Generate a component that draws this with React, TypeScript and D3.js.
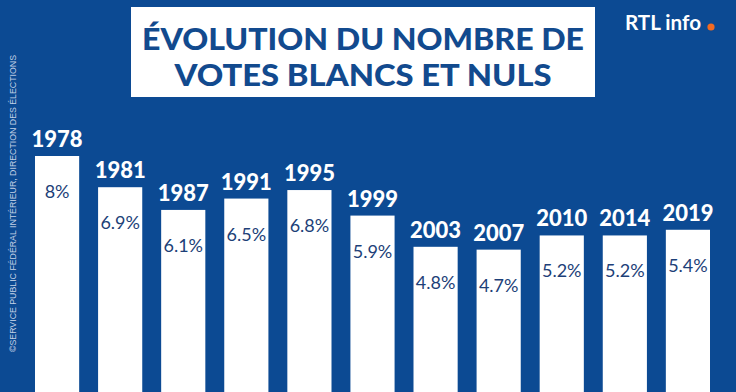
import { useEffect, useRef } from "react";
import * as d3 from "d3";

const years = ["1978", "1981", "1987", "1991", "1995", "1999", "2003", "2007", "2010", "2014", "2019"];
const shares = [8, 6.9, 6.1, 6.5, 6.8, 5.9, 4.8, 4.7, 5.2, 5.2, 5.4];
const titleLines = ["ÉVOLUTION DU NOMBRE DE", "VOTES BLANCS ET NULS"];
const sourceText = "©SERVICE PUBLIC FÉDÉRAL INTÉRIEUR, DIRECTION DES ÉLECTIONS";

const W = 736;
const H = 392;
const BG = "#0c4a93";
const FONT = "Lato, 'Open Sans', sans-serif";

const App = () => {
  const svgRef = useRef<SVGSVGElement | null>(null);

  useEffect(() => {
    const svg = d3.select(svgRef.current);
    svg.selectAll("*").remove();

    svg.append("rect").attr("width", W).attr("height", H).attr("fill", BG);

    // title box
    svg.append("rect")
      .attr("x", 131).attr("y", 7)
      .attr("width", 464).attr("height", 90)
      .attr("fill", "#fff");

    const titleWidths = [442, 377];
    svg.selectAll(".title")
      .data(titleLines)
      .join("text")
      .attr("class", "title")
      .attr("x", 363)
      .attr("y", (d, i) => 50 + i * 36)
      .attr("text-anchor", "middle")
      .attr("font-family", FONT)
      .attr("font-weight", 900)
      .attr("font-size", 31)
      .attr("fill", "#124a8e")
      .attr("textLength", (d, i) => titleWidths[i])
      .attr("lengthAdjust", "spacingAndGlyphs")
      .text((d) => d);

    // logo
    svg.append("text")
      .attr("x", 625).attr("y", 30)
      .attr("font-family", FONT)
      .attr("font-weight", 700)
      .attr("font-size", 20)
      .attr("fill", "#fff")
      .attr("textLength", 76)
      .attr("lengthAdjust", "spacingAndGlyphs")
      .text("RTL info");
    svg.append("circle")
      .attr("cx", 711).attr("cy", 27).attr("r", 3.6)
      .attr("fill", "#f26a21");

    // source, vertical
    svg.append("text")
      .attr("transform", "translate(16,352) rotate(-90)")
      .attr("font-family", "'Liberation Sans', Arial, sans-serif")
      .attr("font-size", 9.5)
      .attr("fill", "#c5d2e6")
      .attr("textLength", 297)
      .attr("lengthAdjust", "spacingAndGlyphs")
      .text(sourceText);

    const x = d3.scaleBand<string>()
      .domain(years)
      .range([35, 710])
      .paddingInner(0.3)
      .paddingOuter(0);

    const y = d3.scaleLinear()
      .domain([0, 8])
      .range([383, 156]);

    const g = svg.append("g");
    const bars = g.selectAll("g")
      .data(years)
      .join("g")
      .attr("transform", (d) => `translate(${x(d)},0)`);

    bars.append("rect")
      .attr("y", (d, i) => y(shares[i]))
      .attr("width", x.bandwidth())
      .attr("height", (d, i) => H - y(shares[i]) + 2)
      .attr("fill", "#fff");

    bars.append("text")
      .attr("x", x.bandwidth() / 2)
      .attr("y", (d, i) => y(shares[i]) - 9)
      .attr("text-anchor", "middle")
      .attr("font-family", FONT)
      .attr("font-weight", 900)
      .attr("font-size", 22)
      .attr("fill", "#fff")
      .text((d) => d);

    bars.append("text")
      .attr("x", x.bandwidth() / 2)
      .attr("y", (d, i) => y(shares[i]) + 42)
      .attr("text-anchor", "middle")
      .attr("font-family", FONT)
      .attr("font-weight", 400)
      .attr("font-size", 18)
      .attr("fill", "#1d3f78")
      .text((d, i) => `${shares[i]}%`);
  }, []);

  return (
    <div style={{ position: "absolute", left: 0, top: 0, width: W, height: H }}>
      <svg ref={svgRef} width={W} height={H} style={{ display: "block" }}></svg>
    </div>
  );
};

export default App;
